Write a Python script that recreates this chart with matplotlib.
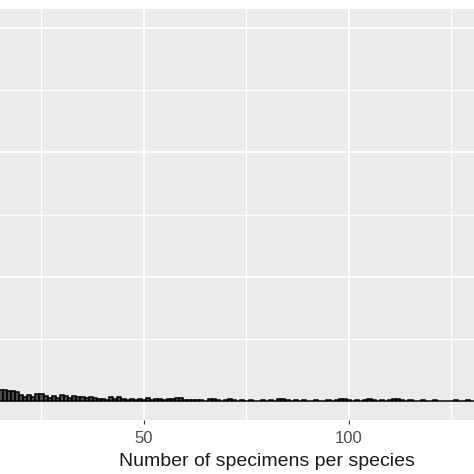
import matplotlib
matplotlib.use("Agg")
import matplotlib.pyplot as plt

# specimens per species (visible part of the histogram) and bin counts
specimens = list(range(15, 131))
n_species = [44, 44, 42, 40, 36, 26, 18, 26, 16, 28, 28, 20, 12, 20, 12, 24, 20, 14, 20, 18,
             16, 12, 16, 14, 8, 8, 6, 16, 8, 16, 8, 6, 8, 6, 8, 6, 12, 4, 8, 8,
             4, 8, 8, 14, 14, 6, 6, 4, 6, 4, 2, 8, 10, 4, 2, 4, 10, 6, 2, 4,
             2, 4, 2, 2, 4, 2, 4, 2, 8, 10, 4, 2, 4, 2, 4, 2, 2, 4, 2, 2,
             4, 2, 6, 8, 8, 4, 2, 4, 2, 6, 8, 6, 2, 4, 2, 4, 8, 8, 4, 2,
             4, 2, 2, 4, 2, 2, 4, 2, 2, 2, 2, 4, 2, 2, 4, 2]

x_major = [50, 100]
x_minor = [25, 75, 125]
y_major = [0, 500, 1000, 1500]
y_minor = [250, 750, 1250]

plt.rcParams['font.family'] = ['Liberation Sans', 'DejaVu Sans']

fig = plt.figure(figsize=(4.74, 4.74), dpi=100)
ax = fig.add_axes([0.0, 54 / 474, 1.0, (420 - 8.5) / 474])
ax.set_facecolor('#EBEBEB')

ax.bar(specimens, n_species, width=1, color='#4D4D4D', edgecolor='black',
       linewidth=1.1, zorder=3)

ax.set_xlim(14.878, 130.49)
ax.set_ylim(-75.1, 1578.3)

ax.set_xticks(x_major)
ax.set_xticks(x_minor, minor=True)
ax.set_yticks(y_major)
ax.set_yticks(y_minor, minor=True)
ax.grid(which='major', color='white', linewidth=1.4, zorder=1)
ax.grid(which='minor', color='white', linewidth=0.9, zorder=1)
ax.set_axisbelow(True)

for s in ax.spines.values():
    s.set_visible(False)

ax.tick_params(axis='x', which='major', length=3, width=0.8, color='#333333',
               labelcolor='#4D4D4D', labelsize=12, pad=5)
ax.tick_params(axis='x', which='minor', length=0)
ax.tick_params(axis='y', which='both', length=0, labelleft=False)

fig.text(267 / 474, 8 / 474, 'Number of specimens per species', ha='center',
         va='baseline', fontsize=14, color='#1A1A1A')

fig.savefig('out.png', dpi=100)
